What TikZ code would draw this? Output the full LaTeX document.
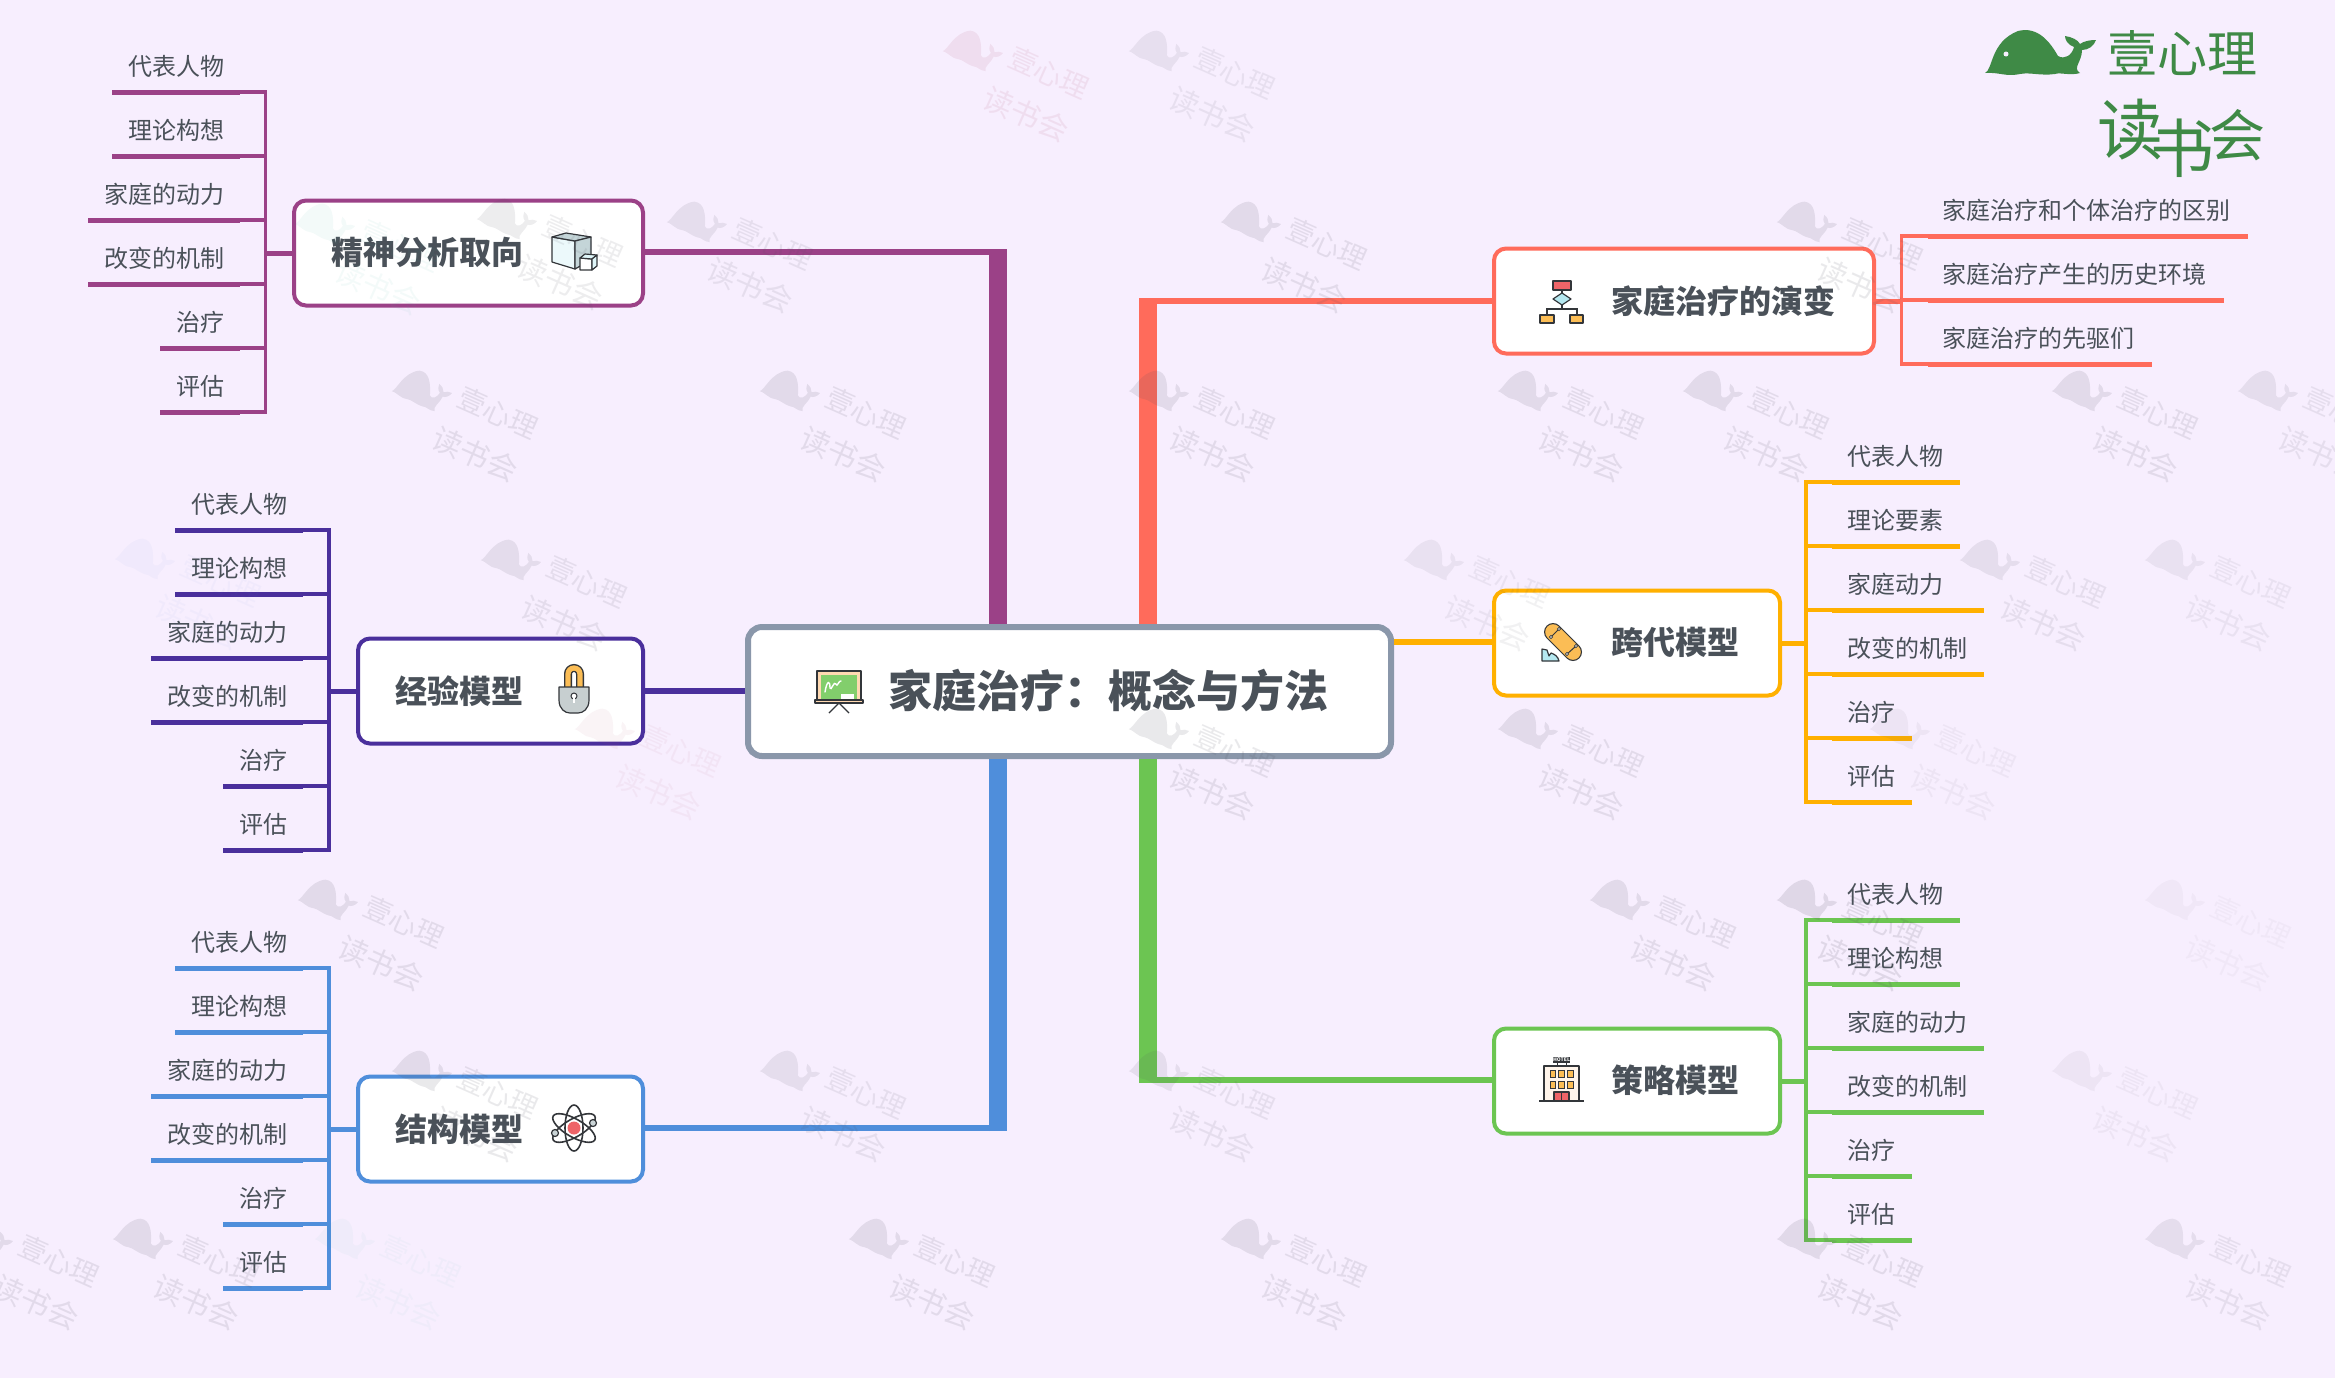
\documentclass[tikz,border=0pt]{standalone}
\usepackage{fontspec}
\setmainfont{Noto Sans CJK SC}
\definecolor{bgc}{HTML}{F7EEFE}
\definecolor{txt}{HTML}{4A5159}
\definecolor{cpur}{HTML}{9B4187}
\definecolor{cind}{HTML}{4A2F9C}
\definecolor{cblu}{HTML}{4F8EDB}
\definecolor{cred}{HTML}{FF6B5B}
\definecolor{cora}{HTML}{FFB000}
\definecolor{cgrn}{HTML}{6CC552}
\definecolor{cgry}{HTML}{8A97AA}
\definecolor{logo}{HTML}{3F8A46}
\definecolor{ink}{HTML}{33363A}
\definecolor{icor}{HTML}{FBBD55}
\definecolor{icbl}{HTML}{B5E8F0}
\definecolor{icrd}{HTML}{EE6468}
\definecolor{wmg}{HTML}{50505F}
\definecolor{wmp}{HTML}{B05070}
\definecolor{wmt}{HTML}{40B0A0}
\definecolor{wmb}{HTML}{5080D0}
\tikzset{
  rootbox/.style={draw=cgry,fill=white,line width=3pt,rounded corners=7pt,minimum width=643*.5pt,minimum height=129*.5pt,inner sep=0pt},
  branchbox/.style={fill=white,line width=2pt,rounded corners=6pt,minimum height=105*.5pt,inner sep=0pt},
  boxtitle/.style={text=txt,font=\fontsize{16}{18}\selectfont\bfseries,inner sep=0pt},
  leaflabel/.style={text=txt,font=\fontsize{12}{14}\selectfont,inner sep=0pt},
  icon/.style={draw=ink,line width=.6pt,line join=round},
}
% whale outline around its own centre
\newcommand{\whaleshape}{(-55,21) .. controls (-47,18) and (-50,-10) .. (-22,-21) .. controls (-2,-26) and (10,-10) .. (18,4) .. controls (25,8) and (32,3) .. (34,-5) .. controls (28,-7) and (25,-12) .. (25,-16) .. controls (32,-15) and (38,-12) .. (40,-8) .. controls (44,-11) and (50,-12) .. (56,-12) .. controls (54,-6) and (48,-2) .. (42,-2) .. controls (42,10) and (32,16) .. (40,21) .. controls (30,24) and (20,20) .. (15,22) .. controls (0,24) and (-10,20) .. (-20,22) .. controls (-35,25) and (-40,20) .. (-55,21) -- cycle}
% #1 name #2 colour #3 trunk x #4 first y #5 side (+1 right, -1 left) #6 text/length list
\newcommand{\leafgroup}[6]{%
  \foreach \t/\len [count=\i from 0] in {#6} {
    \pgfmathsetmacro{\yy}{#4+64*\i}
    \pgfmathsetmacro{\xe}{#3+(#5)*\len}
    \pgfmathsetmacro{\xk}{#3+(#5)*26}
    \pgfmathsetmacro{\xt}{#3+(#5)*41}
    \pgfmathsetmacro{\yt}{\yy-25.5}
    \coordinate (#1-\i-j) at (#3,\yy);
    \coordinate (#1-\i-k) at (\xk,\yy);
    \coordinate (#1-\i-e) at (\xe,\yy);
    \draw[#2,line width=1.8pt] (#1-\i-j) -- (#1-\i-k);
    \draw[#2,line width=2.5pt] (#1-\i-k) -- (#1-\i-e);
    \ifnum#5<0
      \node[leaflabel,anchor=east] (#1-\i) at (\xt,\yt) {\t};
    \else
      \node[leaflabel,anchor=west] (#1-\i) at (\xt,\yt) {\t};
    \fi
  }
}
\begin{document}
\begin{tikzpicture}[x=.5pt,y=-.5pt]
\fill[bgc] (0,0) rectangle (2335,1378);
\useasboundingbox (0,0) rectangle (2335,1378);

% root and branch boxes
\node[rootbox] (root) at (1069.5,691.5) {};
\node[branchbox,draw=cpur,minimum width=349*.5pt] (b1) at (468.5,253) {};
\node[branchbox,draw=cind,minimum width=285*.5pt] (b2) at (500.5,691) {};
\node[branchbox,draw=cblu,minimum width=285*.5pt] (b3) at (500.5,1129) {};
\node[branchbox,draw=cred,minimum width=380*.5pt] (b4) at (1684,301) {};
\node[branchbox,draw=cora,minimum width=286*.5pt] (b5) at (1637,643) {};
\node[branchbox,draw=cgrn,minimum width=286*.5pt] (b6) at (1637,1081) {};

% main connectors
\coordinate (c1) at (998,249);
\coordinate (c1h) at (1007,252);
\coordinate (c3) at (998,1131);
\coordinate (c3h) at (1007,1128);
\coordinate (c4) at (1148,298);
\coordinate (c4h) at (1139,301);
\coordinate (c6) at (1148,1083);
\coordinate (c6h) at (1139,1080);
\draw[cpur,line width=9pt] (c1) -- (c1 |- root.north);
\draw[cpur,line width=3pt] (b1.east |- c1h) -- (c1h);
\draw[cblu,line width=9pt] (c3) -- (c3 |- root.south);
\draw[cblu,line width=3pt] (b3.east |- c3h) -- (c3h);
\draw[cred,line width=9pt] (c4) -- (c4 |- root.north);
\draw[cred,line width=3pt] (b4.west |- c4h) -- (c4h);
\draw[cgrn,line width=9pt] (c6) -- (c6 |- root.south);
\draw[cgrn,line width=3pt] (b6.west |- c6h) -- (c6h);
\draw[cind,line width=3pt] (b2.east) -- (b2.east -| root.west);
\coordinate (c5) at (1492,642);
\draw[cora,line width=3pt] (root.east |- c5) -- (b5.west |- c5);

% leaves
\leafgroup{la}{cpur}{265.5}{92}{-1}{代表人物/154,理论构想/154,家庭的动力/178,改变的机制/178,治疗/106,评估/106}
\leafgroup{lb}{cind}{329}{530}{-1}{代表人物/154,理论构想/154,家庭的动力/178,改变的机制/178,治疗/106,评估/106}
\leafgroup{lc}{cblu}{329}{968}{-1}{代表人物/154,理论构想/154,家庭的动力/178,改变的机制/178,治疗/106,评估/106}
\leafgroup{ld}{cred}{1901.5}{236}{1}{家庭治疗和个体治疗的区别/346,家庭治疗产生的历史环境/322,家庭治疗的先驱们/250}
\leafgroup{le}{cora}{1806}{482}{1}{代表人物/154,理论要素/154,家庭动力/178,改变的机制/178,治疗/106,评估/106}
\leafgroup{lf}{cgrn}{1806}{920}{1}{代表人物/154,理论构想/154,家庭的动力/178,改变的机制/178,治疗/106,评估/106}
\draw[cpur,line width=1.8pt,line cap=rect] (la-0-j) -- (la-5-j);
\draw[cind,line width=1.8pt,line cap=rect] (lb-0-j) -- (lb-5-j);
\draw[cblu,line width=1.8pt,line cap=rect] (lc-0-j) -- (lc-5-j);
\draw[cred,line width=1.8pt,line cap=rect] (ld-0-j) -- (ld-2-j);
\draw[cora,line width=1.8pt,line cap=rect] (le-0-j) -- (le-5-j);
\draw[cgrn,line width=1.8pt,line cap=rect] (lf-0-j) -- (lf-5-j);
\draw[cpur,line width=2.5pt] (b1.west) -- (b1.west -| la-0-j);
\draw[cind,line width=2.5pt] (b2.west) -- (b2.west -| lb-0-j);
\draw[cblu,line width=2.5pt] (b3.west) -- (b3.west -| lc-0-j);
\draw[cred,line width=2.5pt] (b4.east) -- (b4.east -| ld-0-j);
\draw[cora,line width=2.5pt] (b5.east) -- (b5.east -| le-0-j);
\draw[cgrn,line width=2.5pt] (b6.east) -- (b6.east -| lf-0-j);

% titles
\node[boxtitle,font=\fontsize{22}{26}\selectfont\bfseries] (troot) at (1108,690) {家庭治疗：概念与方法};
\node[boxtitle] (t1) at (427.5,252) {精神分析取向};
\node[boxtitle] (t2) at (459.5,691) {经验模型};
\node[boxtitle] (t3) at (459.5,1129) {结构模型};
\node[boxtitle] (t4) at (1723.5,301) {家庭治疗的演变};
\node[boxtitle] (t5) at (1675.5,642) {跨代模型};
\node[boxtitle] (t6) at (1675.5,1080) {策略模型};

% icon: blackboard
\draw[icon,fill=orange!30!white] (817,671) rectangle (861,702);
\fill[cgrn!85!white] (821,675) rectangle (857,699);
\draw[white,line width=.7pt,line cap=round] (825,692) .. controls (827,680) and (830,680) .. (830,688) .. controls (831,692) and (834,680) .. (836,684) .. controls (837,688) and (839,680) .. (841,681);
\fill[white] (841,694) rectangle (854,699);
\draw[icon,fill=orange!30!white] (815,700) rectangle (863,703);
\draw[ink,line width=.6pt] (839,703) -- (829,713) (839,703) -- (849,713);

% icon: cubes
\draw[icon,fill=icbl!25!white] (552,237) -- (575,241) -- (575,269) -- (552,262) -- cycle;
\draw[icon,fill=icbl!55!gray!60!white] (552,237) -- (566,233) -- (591,237) -- (575,241) -- cycle;
\draw[icon,fill=icbl!55!gray!60!white] (575,241) -- (591,237) -- (591,260) -- (575,269) -- cycle;
\draw[icon,fill=white] (580,258) -- (592,259) -- (592,270) -- (580,270) -- cycle;
\draw[icon,fill=icbl!45!white] (580,258) -- (585,254) -- (597,255) -- (592,259) -- cycle;
\draw[icon,fill=icbl!45!white] (592,259) -- (597,255) -- (597,266) -- (592,270) -- cycle;

% icon: lock
\draw[ink,line width=4pt] (568,688) -- (568,674) arc[start angle=180,end angle=0,x radius=6,y radius=-6] -- (580,688);
\draw[icor,line width=2.6pt] (568,688) -- (568,674) arc[start angle=180,end angle=0,x radius=6,y radius=-6] -- (580,688);
\draw[icon,fill=icbl!30!gray!50!white] (559,687) -- (589,687) -- (589,700) .. controls (589,709) and (583,713) .. (578,713) -- (570,713) .. controls (565,713) and (559,709) .. (559,700) -- cycle;
\draw[ink,fill=white,line width=.5pt] (574,696) circle[radius=3];
\fill[white] (572.7,697) rectangle (575.3,703);

% icon: atom
\begin{scope}[shift={(574,1128)}]
\draw[ink,line width=.8pt] (0,0) ellipse[x radius=9,y radius=23];
\draw[ink,line width=.8pt,rotate=60] (0,0) ellipse[x radius=9,y radius=24];
\draw[ink,line width=.8pt,rotate=-60] (0,0) ellipse[x radius=9,y radius=24];
\fill[icrd] (0,0) circle[radius=6.5];
\draw[icon,fill=icbl!40!gray!50!white] (19,-5) circle[radius=3.5];
\draw[icon,fill=icbl!40!gray!50!white] (-19,5) circle[radius=3.5];
\end{scope}

% icon: flow chart
\draw[ink,line width=.6pt] (1562,290) -- (1562,309) (1547,315) -- (1547,309) -- (1577,309) -- (1577,315);
\draw[icon,fill=icrd] (1553,281) rectangle (1571,290);
\draw[icon,fill=icbl] (1553,299) -- (1562,293) -- (1571,299) -- (1562,305) -- cycle;
\draw[icon,fill=icor] (1540,315) rectangle (1554,323);
\draw[icon,fill=icor] (1570,315) rectangle (1583,323);

% icon: skateboard
\draw[ink,line width=9pt,line cap=round] (1553,632) -- (1573,652);
\draw[icor,line width=7.8pt,line cap=round] (1553,632) -- (1573,652);
\draw[ink,line width=.5pt] (1551,637) -- (1559,629) (1567,654) -- (1576,646);
\foreach \a/\b [count=\k] in {1551/637,1559/629,1567/654,1576/646}
  \draw[ink,fill=white,line width=.4pt] (\a,\b) circle[radius=1.6];
\draw[icon,fill=icbl] (1542,649) -- (1542,661) -- (1559,661) .. controls (1558,656) and (1554,654) .. (1551,653) -- (1549,656) -- (1547,650) -- cycle;

% icon: hotel
\draw[ink,line width=.5pt] (1557,1063) -- (1557,1066) (1566,1063) -- (1566,1066);
\fill[ink] (1553,1057) rectangle (1570,1063);
\node[text=white,font=\fontsize{2.5}{3}\bfseries,inner sep=0pt] (hoteltxt) at (1561.5,1060) {HOTEL};
\draw[icon,fill=orange!8!white] (1544,1066) rectangle (1579,1101);
\foreach \a in {1553,1561.5,1570.5}
  \foreach \b in {1074,1085}
    \draw[ink,fill=icor,line width=.4pt] (\a-2.7,\b-3.6) rectangle (\a+2.7,\b+3.6);
\draw[icon,fill=icrd] (1554,1092) rectangle (1569,1101);
\draw[ink,line width=.4pt] (1561.5,1092) -- (1561.5,1101);
\draw[ink,line width=.6pt] (1539,1101) -- (1584,1101);

% logo
\begin{scope}[shift={(2040,52)}]
\fill[logo] \whaleshape;
\fill[bgc] (-34,2) circle[radius=2.5];
\end{scope}
\node[text=logo,font=\fontsize{25}{28}\selectfont,inner sep=0pt] (logoa) at (2182,53) {壹心理};
\node[text=logo,font=\fontsize{33}{35}\selectfont,inner sep=0pt] (logob) at (2130,130) {读};
\node[text=logo,font=\fontsize{32}{34}\selectfont,inner sep=0pt] (logoc) at (2182,148) {书};
\node[text=logo,font=\fontsize{28}{30}\selectfont,inner sep=0pt] (logod) at (2237,135) {会};

% watermarks
\foreach \wx/\wy/\wc/\wo [count=\w] in {
 968/52/wmp/.10, 1154/52/wmg/.09, 502/220/wmg/.10, 692/223/wmg/.10, 1246/223/wmg/.12, 1802/223/wmg/.12,
 417/392/wmg/.12, 785/392/wmg/.12, 1154/392/wmg/.12, 1523/392/wmg/.12, 1708/392/wmg/.12, 2077/392/wmg/.12, 2263/392/wmg/.10,
 506/561/wmg/.11, 1429/561/wmg/.08, 1985/561/wmg/.10, 2170/561/wmg/.08,
 600/730/wmp/.06, 1154/730/wmg/.12, 1523/730/wmg/.12, 1895/730/wmg/.06,
 323/901/wmg/.12, 1615/901/wmg/.12, 1802/901/wmg/.14, 2170/901/wmg/.04,
 417/1072/wmg/.12, 785/1072/wmg/.10, 1154/1072/wmg/.10, 2077/1072/wmg/.06,
 138/1240/wmg/.12, 874/1240/wmg/.12, 1246/1240/wmg/.12, 1802/1240/wmg/.13, 2170/1240/wmg/.10, -22/1240/wmg/.12,
 340/1240/wmt/.04, 320/225/wmt/.06, 140/560/wmb/.04
}{
\begin{scope}[shift={(\wx+6,\wy-3)},opacity=\wo]
\begin{scope}[rotate=-25,xscale=.5,yscale=.72]
\fill[\wc] \whaleshape;
\end{scope}
\node[text=\wc,rotate=-24,font=\fontsize{14}{16}\selectfont,inner sep=0pt] (wma\w) at (75,24) {壹心理};
\node[text=\wc,rotate=-24,font=\fontsize{15}{17}\selectfont,inner sep=0pt] (wmb\w) at (52,65) {读书会};
\end{scope}
}
\end{tikzpicture}
\end{document}
